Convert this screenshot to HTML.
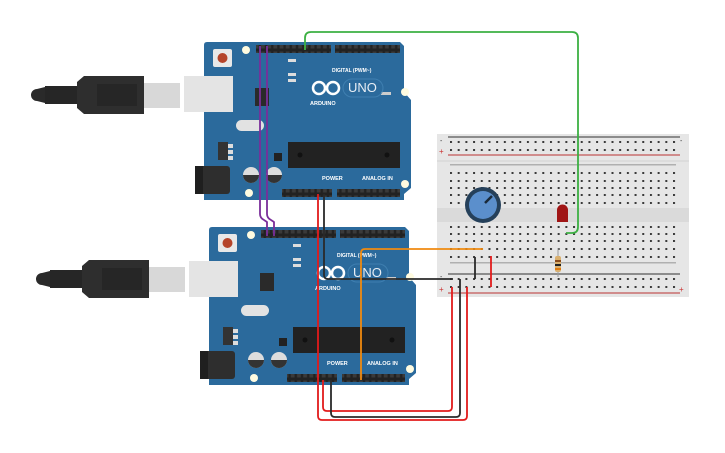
<!DOCTYPE html>
<html><head><meta charset="utf-8"><style>
html,body{margin:0;padding:0;background:#fff;width:725px;height:453px;overflow:hidden}
svg{display:block}
text{font-family:"Liberation Sans",sans-serif}
</style></head><body>
<svg width="725" height="453" viewBox="0 0 725 453" xmlns="http://www.w3.org/2000/svg">
<defs>
<pattern id="hdr" x="0" y="0" width="6.2" height="8" patternUnits="userSpaceOnUse">
<rect width="6.2" height="8" fill="#222"/><rect x="1.2" y="1.5" width="3.8" height="5" fill="#3a3a3a"/>
</pattern>
<pattern id="dot" x="450" y="0" width="7.69" height="300" patternUnits="userSpaceOnUse">
<rect x="0" y="0" width="2" height="300" fill="#3a3a3a"/>
</pattern>
<g id="board">
<path d="M0 3 Q0 0 3 0 L196 0 L200 4 L200 50 L207 58 L207 146 L200 152 L200 158 L0 158 Z" fill="#2b6a9c"/>
<rect x="52" y="3" width="75" height="8" fill="url(#hdr)"/>
<rect x="131" y="3" width="65" height="8" fill="url(#hdr)"/>
<rect x="78" y="147" width="50" height="8" fill="url(#hdr)"/>
<rect x="133" y="147" width="63" height="8" fill="url(#hdr)"/>
<rect x="9" y="7" width="19" height="18" rx="2" fill="#e8e8e8"/>
<circle cx="18.5" cy="16" r="5" fill="#b5442a"/>
<circle cx="42" cy="8" r="4" fill="#fffbe0"/>
<circle cx="201" cy="50" r="4" fill="#fffbe0"/>
<circle cx="201" cy="142" r="4" fill="#fffbe0"/>
<circle cx="45" cy="151" r="4" fill="#fffbe0"/>
<rect x="-20" y="34" width="49" height="36" fill="#e4e4e4"/>
<rect x="51" y="46" width="14" height="18" fill="#2a2a2a"/>
<rect x="32" y="78" width="28" height="11" rx="5.5" fill="#e2e2e2"/>
<rect x="14" y="100" width="10" height="18" fill="#333"/>
<rect x="24" y="102" width="5" height="4" fill="#ddd"/><rect x="24" y="108" width="5" height="4" fill="#ddd"/><rect x="24" y="114" width="5" height="4" fill="#ddd"/>
<rect x="-9" y="124" width="35" height="28" rx="3" fill="#2e2e2e"/>
<rect x="-9" y="124" width="8" height="28" fill="#1f1f1f"/>
<circle cx="47" cy="133" r="8" fill="#ddd"/><path d="M39 133 A8 8 0 0 0 55 133 Z" fill="#333"/>
<circle cx="70" cy="133" r="8" fill="#ddd"/><path d="M62 133 A8 8 0 0 0 78 133 Z" fill="#333"/>
<rect x="84" y="100" width="112" height="26" fill="#222"/>
<circle cx="96" cy="113" r="2.5" fill="#111"/><circle cx="183" cy="113" r="2.5" fill="#111"/>
<rect x="70" y="111" width="8" height="8" fill="#222"/>
<rect x="84" y="17" width="8" height="3" fill="#ddd"/>
<rect x="84" y="31" width="8" height="3" fill="#ddd"/><rect x="84" y="37" width="8" height="3" fill="#ddd"/>
<rect x="177" y="50" width="10" height="3" fill="#ccc"/>
<text x="128" y="30" font-size="5" fill="#fff" font-weight="bold">DIGITAL (PWM~)</text>
<rect x="139" y="37" width="40" height="18" rx="9" fill="none" stroke="#3f7fb0" stroke-width="1"/>
<text x="144" y="50" font-size="13" fill="#e8eef5">UNO</text>
<circle cx="115" cy="46" r="6" fill="none" stroke="#fff" stroke-width="2.5"/>
<circle cx="129" cy="46" r="6" fill="none" stroke="#fff" stroke-width="2.5"/>
<text x="106" y="63" font-size="5.5" fill="#fff" font-weight="bold">ARDUINO</text>
<text x="118" y="138" font-size="5.5" fill="#fff" font-weight="bold">POWER</text>
<text x="158" y="138" font-size="5.5" fill="#fff" font-weight="bold">ANALOG IN</text>
</g>
<g id="cable">
<path d="M0 -6 L8 -8 L8 8 L0 6 A6 6 0 0 1 0 -6Z" fill="#2a2a2a"/>
<rect x="8" y="-9" width="32" height="18" fill="#262626"/>
<path d="M40 -13 L47 -19 L107 -19 L107 19 L47 19 L40 13Z" fill="#2e2e2e"/>
<rect x="60" y="-11" width="40" height="22" fill="#262626"/>
<rect x="107" y="-12" width="36" height="25" fill="#d8d8d8"/>
</g>
</defs>

<!-- breadboard -->
<rect x="437" y="134" width="252" height="163" fill="#e6e6e6"/>
<rect x="437" y="208" width="252" height="14" fill="#dadada"/>
<rect x="437" y="160" width="252" height="2" fill="#dcdcdc"/>
<line x1="448" y1="137" x2="680" y2="137" stroke="#333" stroke-width="1"/>
<line x1="448" y1="155" x2="680" y2="155" stroke="#b33" stroke-width="1"/>
<line x1="448" y1="274" x2="680" y2="274" stroke="#333" stroke-width="1"/>
<line x1="448" y1="293" x2="680" y2="293" stroke="#b33" stroke-width="1"/>
<text x="440" y="143" font-size="7" fill="#333">-</text>
<text x="439" y="154" font-size="8" fill="#c33">+</text>
<text x="440" y="279" font-size="7" fill="#333">-</text>
<text x="439" y="292" font-size="8" fill="#c33">+</text>
<text x="680" y="143" font-size="7" fill="#333">-</text>
<text x="679" y="292" font-size="8" fill="#c33">+</text>
<g fill="url(#dot)">
<rect x="450" y="141" width="226" height="2"/>
<rect x="450" y="149" width="226" height="2"/>
<rect x="450" y="172" width="226" height="2"/>
<rect x="450" y="180" width="226" height="2"/>
<rect x="450" y="187" width="226" height="2"/>
<rect x="450" y="194" width="226" height="2"/>
<rect x="450" y="202" width="226" height="2"/>
<rect x="450" y="226" width="226" height="2"/>
<rect x="450" y="233" width="226" height="2"/>
<rect x="450" y="240" width="226" height="2"/>
<rect x="450" y="248" width="226" height="2"/>
<rect x="450" y="256" width="226" height="2"/>
<rect x="450" y="278" width="226" height="2"/>
<rect x="450" y="286" width="226" height="2"/>
</g>
<g fill="#999" opacity=".7">
<rect x="450" y="164" width="226" height="1.5"/>
<rect x="450" y="262" width="226" height="1.5"/>
</g>

<!-- boards -->
<use href="#board" x="204" y="42"/>
<use href="#board" x="209" y="227"/>
<use href="#cable" x="37" y="95"/>
<use href="#cable" x="42" y="279"/>

<!-- pot -->
<circle cx="483" cy="205" r="18" fill="#25405a"/>
<circle cx="483" cy="205" r="14" fill="#5b8fcc"/>
<line x1="485" y1="203" x2="492" y2="196" stroke="#1a2a3a" stroke-width="2.5"/>
<!-- LED -->
<path d="M557 222 L557 210 A5.5 5.5 0 0 1 568 210 L568 222Z" fill="#a01515"/>
<!-- resistor -->
<line x1="558" y1="248" x2="558" y2="277" stroke="#999" stroke-width="1"/>
<rect x="555" y="256" width="6" height="16" rx="2" fill="#d9b070"/>
<rect x="555" y="260" width="6" height="2" fill="#8a4a1a"/><rect x="555" y="264" width="6" height="2" fill="#222"/><rect x="555" y="268" width="6" height="2" fill="#e07a10"/>

<!-- wires -->
<g fill="none" stroke-width="1.8" stroke-linejoin="round">
<path d="M305 50 L305 38 Q305 32 311 32 L572 32 Q578 32 578 38 L578 227 Q578 233 572 233 L566 233" stroke="#3cb043"/>
<path d="M260 46 L260 214 Q260 218 264 220 L267 222 L267 236" stroke="#7a2e9a"/>
<path d="M267 46 L267 214 Q267 218 271 220 L274 222 L274 236" stroke="#7a2e9a"/>
<path d="M318 194 L318 416 Q318 420 322 420 L463 420 Q467 420 467 416 L467 287" stroke="#e21b1b"/>
<path d="M324 194 L324 275 Q324 279 328 279 L453 279" stroke="#2a2a2a"/>
<path d="M361 380 L361 253 Q361 249 365 249 L483 249" stroke="#f08a10"/>
<path d="M323 380 L323 407 Q323 411 327 411 L448 411 Q452 411 452 407 L452 287" stroke="#e21b1b"/>
<path d="M331 380 L331 413 Q331 417 335 417 L456 417 Q460 417 460 413 L460 279" stroke="#2a2a2a"/>
<path d="M475 257 L475 279" stroke="#2a2a2a"/>
<path d="M491 256 L491 287" stroke="#e21b1b"/>
</g>
</svg>
</body></html>
